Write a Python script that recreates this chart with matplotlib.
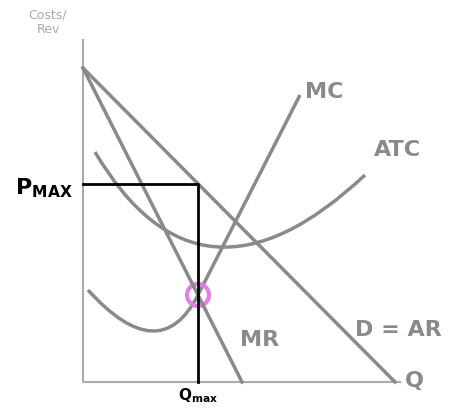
import matplotlib
matplotlib.use("Agg")
import matplotlib.pyplot as plt
from matplotlib.path import Path
from matplotlib.patches import PathPatch, Circle

# diagram geometry in pixel-like coordinates (y down)
demand = [(83, 68), (395, 382)]
mr = [(83, 68), (242, 382)]
mc_pts = [(88, 290), (160, 369.5), (198, 295), (300, 95)]
atc_pts = [(95, 152), (200, 330), (365, 175)]
pmax = 184
qmax = 198
eq_y = 295

G = '#8a8a8a'
fig = plt.figure(figsize=(4.74, 4.09), dpi=100)
ax = fig.add_axes([0, 0, 1, 1])
ax.set_xlim(0, 474); ax.set_ylim(409, 0); ax.axis('off')

ax.plot([83, 83, 400], [40, 382, 382], color='#aaaaaa', lw=1.5)
ax.plot(*zip(*demand), color=G, lw=2.5)
ax.plot(*zip(*mr), color=G, lw=2.5)
p = Path([mc_pts[0], mc_pts[1], mc_pts[2], mc_pts[3]],
         [Path.MOVETO, Path.CURVE3, Path.CURVE3, Path.LINETO])
ax.add_patch(PathPatch(p, fill=False, ec=G, lw=2.5))
p2 = Path(atc_pts, [Path.MOVETO, Path.CURVE3, Path.CURVE3])
ax.add_patch(PathPatch(p2, fill=False, ec=G, lw=2.5))
ax.plot([83, qmax, qmax], [pmax, pmax, 382], color='black', lw=2)
ax.add_patch(Circle((qmax, eq_y), 11, fill=False, ec='#e27ee8', lw=3))

ax.text(48, 22, 'Costs/\nRev', color='#aaaaaa', fontsize=9, ha='center', va='center')
ax.text(15, 188, r'P$_{\mathbf{MAX}}$', fontsize=16, fontweight='bold', va='center')
ax.text(198, 396, r'Q$_{\mathbf{max}}$', fontsize=11, fontweight='bold', ha='center', va='center')
for s, x, y in [('MC', 305, 92), ('ATC', 374, 150), ('MR', 240, 340),
                ('D = AR', 355, 330), ('Q', 405, 381)]:
    ax.text(x, y, s, color=G, fontsize=16, fontweight='bold', va='center')
fig.savefig('out.png', dpi=100)
